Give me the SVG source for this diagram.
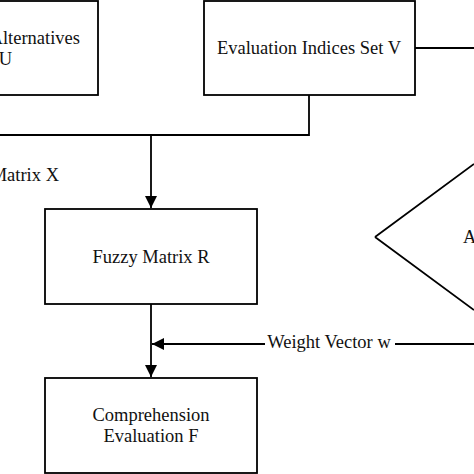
<svg xmlns="http://www.w3.org/2000/svg" width="474" height="474" viewBox="0 0 474 474">
<defs>
<style>
.box{fill:#fff;stroke:#000;stroke-width:1.8}
.ln{fill:none;stroke:#000;stroke-width:1.8}
text{font-family:"Liberation Serif","Times New Roman",serif;font-size:18.5px;fill:#111}
</style>
<marker id="ah" markerUnits="userSpaceOnUse" markerWidth="14" markerHeight="14" refX="12" refY="6" orient="auto">
<path d="M0,0 L12,6 L0,12 Z" fill="#000"/>
</marker>
</defs>
<rect width="474" height="474" fill="#fff"/>
<g id="connectors">
<path class="ln" d="M309,95 V135 H0"/>
<path class="ln" d="M151,135 V208" marker-end="url(#ah)"/>
<path class="ln" d="M151,304 V377" marker-end="url(#ah)"/>
<path class="ln" d="M415,48 H474"/>
<path class="ln" d="M474,344 H395"/>
<path class="ln" d="M265,344 H152" marker-end="url(#ah)"/>
<text x="329" y="348" text-anchor="middle">Weight Vector w</text>
<text x="59" y="181" text-anchor="end">Matrix X</text>
</g>
<g id="alternatives">
<rect class="box" x="-30" y="1" width="128" height="94"/>
<text x="80" y="44" text-anchor="end">Alternatives</text>
<text x="12" y="65" text-anchor="end">U</text>
</g>
<g id="indices">
<rect class="box" x="204" y="1" width="211" height="94"/>
<text x="309" y="54" text-anchor="middle">Evaluation Indices Set V</text>
</g>
<g id="fuzzy">
<rect class="box" x="45" y="209" width="212" height="95"/>
<text x="151" y="263" text-anchor="middle">Fuzzy Matrix R</text>
</g>
<g id="comprehension">
<rect class="box" x="45" y="378" width="212" height="95"/>
<text x="151" y="421" text-anchor="middle">Comprehension</text>
<text x="151" y="442" text-anchor="middle">Evaluation F</text>
</g>
<g id="diamond">
<path class="box" d="M375,237 L474,164 M375,237 L474,310" style="fill:none"/>
<text x="463" y="243">A</text>
</g>
</svg>
